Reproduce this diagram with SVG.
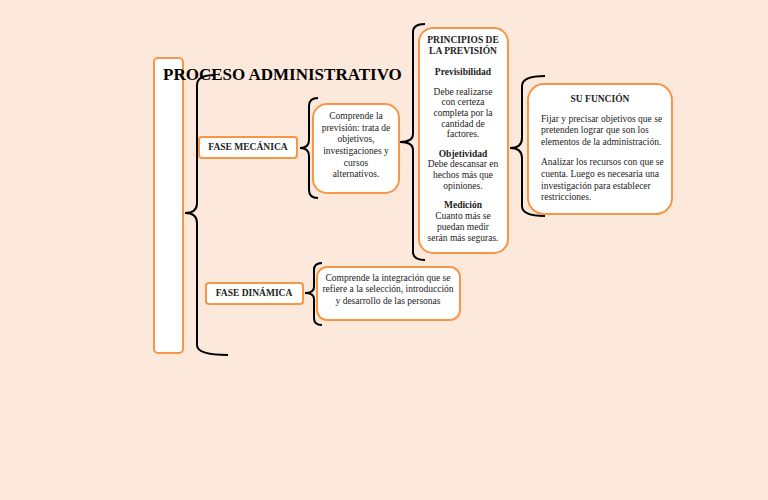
<svg xmlns="http://www.w3.org/2000/svg" width="768" height="500" viewBox="0 0 768 500">
<style>
.box{fill:#fff;stroke:#f79646;stroke-width:2}
.br{fill:none;stroke:#000;stroke-width:2}
text{font-family:"Liberation Serif",serif;fill:#222;text-anchor:middle;font-size:9.5px}
.b{font-weight:bold}
.l{text-anchor:start}
</style>
<rect width="768" height="500" fill="#fde9dc"/>
<g id="root"><rect class="box" x="154" y="58" width="29" height="295" rx="4"/></g>
<g id="connectors">
<path class="br" d="M215,75 Q197,75 197,85 L197,203 Q197,213 185,213 Q197,213 197,223 L197,345 Q197,355 228,355"/>
<path class="br" d="M318,98 Q309,98 309,106 L309,140 Q309,148 300,148 Q309,148 309,156 L309,190 Q309,198 318,198"/>
<path class="br" d="M425,24 Q413,24 413,32 L413,134 Q413,142 400,142 Q413,142 413,150 L413,252 Q413,260 425,260"/>
<path class="br" d="M545,76 Q522,76 522,86 L522,138 Q522,148 510,148 Q522,148 522,158 L522,206 Q522,216 545,216"/>
<path class="br" d="M322,263 Q314,263 314,270 L314,287 Q314,293 305,293 Q314,293 314,299 L314,318 Q314,325 322,325"/>
</g>
<g id="mecanica"><rect class="box" x="199" y="137" width="98" height="21" rx="3"/><text class="b" x="248" y="150">FASE MECÁNICA</text></g>
<g id="dinamica"><rect class="box" x="206" y="283" width="97" height="21" rx="3"/><text class="b" x="254" y="296">FASE DINÁMICA</text></g>
<g id="prevision"><rect class="box" x="313" y="104" width="86" height="89" rx="14"/>
<text x="356" y="119">Comprende la</text><text x="356" y="131">previsión: trata de</text><text x="356" y="142">objetivos,</text><text x="356" y="154">investigaciones y</text><text x="356" y="166">cursos</text><text x="356" y="177">alternativos.</text></g>
<g id="integracion"><rect class="box" x="317" y="267" width="143" height="53" rx="10"/>
<text x="388" y="281">Comprende la integración que se</text><text x="388" y="292">refiere a la selección, introducción</text><text x="388" y="304">y desarrollo de las personas</text></g>
<g id="principios"><rect class="box" x="419" y="28" width="89" height="225" rx="14"/>
<text class="b" x="463" y="43">PRINCIPIOS DE</text><text class="b" x="463" y="54">LA PREVISIÓN</text>
<text class="b" x="463" y="75">Previsibilidad</text>
<text x="463" y="95">Debe realizarse</text><text x="463" y="105">con certeza</text><text x="463" y="116">completa por la</text><text x="463" y="127">cantidad de</text><text x="463" y="137">factores.</text>
<text class="b" x="463" y="157">Objetividad</text><text x="463" y="167">Debe descansar en</text><text x="463" y="178">hechos más que</text><text x="463" y="189">opiniones.</text>
<text class="b" x="463" y="208">Medición</text><text x="463" y="219">Cuanto más se</text><text x="463" y="230">puedan medir</text><text x="463" y="241">serán más seguras.</text></g>
<g id="funcion"><rect class="box" x="528" y="84" width="144" height="130" rx="16"/>
<text class="b" x="600" y="102">SU FUNCIÓN</text>
<text class="l" x="541" y="122">Fijar y precisar objetivos que se</text><text class="l" x="541" y="133">pretenden lograr que son los</text><text class="l" x="541" y="145">elementos de la administración.</text>
<text class="l" x="541" y="165">Analizar los recursos con que se</text><text class="l" x="541" y="177">cuenta. Luego es necesaria una</text><text class="l" x="541" y="189">investigación para establecer</text><text class="l" x="541" y="200">restricciones.</text></g>
<g id="title"><text x="163" y="80" class="b l" style="font-size:17px;fill:#000">PROCESO ADMINISTRATIVO</text></g>
</svg>
